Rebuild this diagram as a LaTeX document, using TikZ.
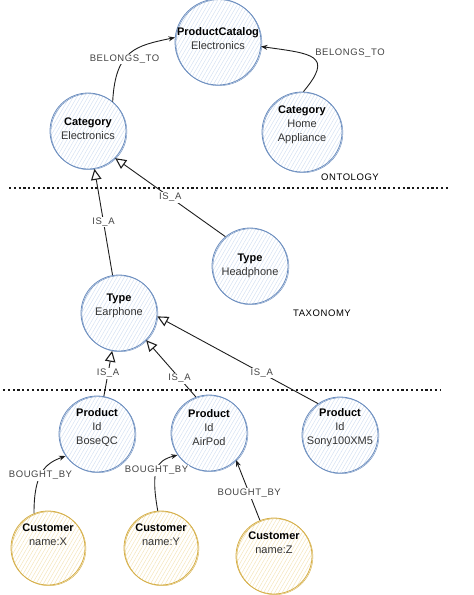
\documentclass[tikz,border=0pt]{standalone}
\usepackage{fontspec}
\setmainfont{Liberation Sans}
\usetikzlibrary{arrows.meta,patterns.meta}
\definecolor{bstroke}{HTML}{6C8EBF}
\definecolor{bhatch}{HTML}{D2E0F3}
\definecolor{ystroke}{HTML}{D6B04A}
\definecolor{yhatch}{HTML}{F5E4B6}
\definecolor{lblc}{HTML}{444444}
\definecolor{txtc}{HTML}{333333}
\definecolor{edgec}{HTML}{1E1E1E}
\tikzset{
  ent/.style={circle, line width=0.8pt, minimum size=#1, inner sep=0pt},
  blueent/.style={ent=#1, draw=bstroke, preaction={fill=white},
    pattern={Lines[angle=60,distance=3.2pt,line width=0.45pt]}, pattern color=bhatch,
    postaction={draw=bstroke, line width=0.45pt, transform canvas={shift={(0.9pt,-0.7pt)}}}},
  yellowent/.style={ent=#1, draw=ystroke, preaction={fill=white},
    pattern={Lines[angle=60,distance=3.2pt,line width=0.45pt]}, pattern color=yhatch,
    postaction={draw=ystroke, line width=0.45pt, transform canvas={shift={(0.9pt,-0.7pt)}}}},
  txt/.style={align=center, inner sep=0pt, text=txtc, font=\fontsize{11}{14}\selectfont},
  lbl/.style={fill=white, inner sep=1.2pt, text=lblc, font=\fontsize{9.5}{10}\selectfont\addfontfeatures{LetterSpace=6}},
  sect/.style={inner sep=0pt, text=black, font=\fontsize{9.5}{10}\selectfont\addfontfeatures{LetterSpace=6}},
  rel/.style={draw=edgec, line width=0.9pt, -{Stealth[length=6.5pt,width=5pt]}},
  isa/.style={draw=edgec, line width=0.9pt, -{Triangle[open,length=11pt,width=10.5pt,line width=1.1pt]}},
  sep/.style={line width=2.2pt, dash pattern=on 2.2pt off 2.6pt, black!90}
}
\begin{document}
\begin{tikzpicture}[x=1pt,y=-1pt]
\useasboundingbox (0,0) rectangle (474,595);
% separators
\coordinate (s1a) at (9,188); \coordinate (s1b) at (448,188);
\coordinate (s2a) at (3,390); \coordinate (s2b) at (440,390);
\draw[sep] (s1a) -- (s1b);
\draw[sep] (s2a) -- (s2b);
\node[sect] (onto) at (350,177) {ONTOLOGY};
\node[sect] (taxo) at (322,313) {TAXONOMY};
% entities
\node[blueent=86pt] (pc) at (218,42) {};
\node[txt] (pcT) at (218,39) {\textbf{\textcolor{black}{ProductCatalog}}\\Electronics};
\node[blueent=76pt] (catE) at (88,131) {};
\node[txt] (catET) at (88,129) {\textbf{\textcolor{black}{Category}}\\Electronics};
\node[blueent=80pt] (catH) at (302,132) {};
\node[txt] (catHT) at (302,125) {\textbf{\textcolor{black}{Category}}\\Home\\Appliance};
\node[blueent=76pt] (typeH) at (250,266) {};
\node[txt] (typeHT) at (250,266) {\textbf{\textcolor{black}{Type}}\\Headphone};
\node[blueent=76pt] (typeE) at (119,313) {};
\node[txt] (typeET) at (119,306) {\textbf{\textcolor{black}{Type}}\\Earphone};
\node[blueent=76pt] (pB) at (97,434) {};
\node[txt] (pBT) at (97,428) {\textbf{\textcolor{black}{Product}}\\Id\\BoseQC};
\node[blueent=76pt] (pA) at (209,433) {};
\node[txt] (pAT) at (209,428) {\textbf{\textcolor{black}{Product}}\\Id\\AirPod};
\node[blueent=76pt] (pS) at (340,435) {};
\node[txt] (pST) at (340,428) {\textbf{\textcolor{black}{Product}}\\Id\\Sony100XM5};
\node[yellowent=74pt] (cX) at (48,548) {};
\node[txt] (cXT) at (48,535) {\textbf{\textcolor{black}{Customer}}\\name:X};
\node[yellowent=74pt] (cY) at (161,548) {};
\node[txt] (cYT) at (161,535) {\textbf{\textcolor{black}{Customer}}\\name:Y};
\node[yellowent=76pt] (cZ) at (274,556) {};
\node[txt] (cZT) at (274,543) {\textbf{\textcolor{black}{Customer}}\\name:Z};
% belongs_to
\draw[rel] (catE.50) .. controls +(87:52pt) and +(192:40pt) .. node[lbl,pos=0.4] {BELONGS\_TO} (pc.174);
\draw[rel] (catH.88) .. controls +(50:48pt) and +(-8:52pt) .. (pc.-6);
\node[lbl] (bl2) at (350,53) {BELONGS\_TO};
% is_a
\draw[isa] (typeE) -- node[lbl,pos=0.5] {IS\_A} (catE);
\draw[isa] (typeH.130) -- node[lbl,pos=0.5] {IS\_A} (catE.-45);
\draw[isa] (pB) -- node[lbl,pos=0.5] {IS\_A} (typeE);
\draw[isa] (pA.110) -- node[lbl,pos=0.33] {IS\_A} (typeE.-45);
\draw[isa] (pS.125) -- node[lbl,pos=0.35] {IS\_A} (typeE.-5);
% bought_by
\draw[rel] (cX.112) .. controls +(90:40pt) and +(200:22pt) .. node[lbl,pos=0.45] {BOUGHT\_BY} (pB.215);
\draw[rel] (cY.95) .. controls +(100:42pt) and +(195:22pt) .. node[lbl,pos=0.48] {BOUGHT\_BY} (pA.215);
\draw[rel] (cZ) -- node[lbl,pos=0.45] {BOUGHT\_BY} (pA.-45);
\end{tikzpicture}
\end{document}
